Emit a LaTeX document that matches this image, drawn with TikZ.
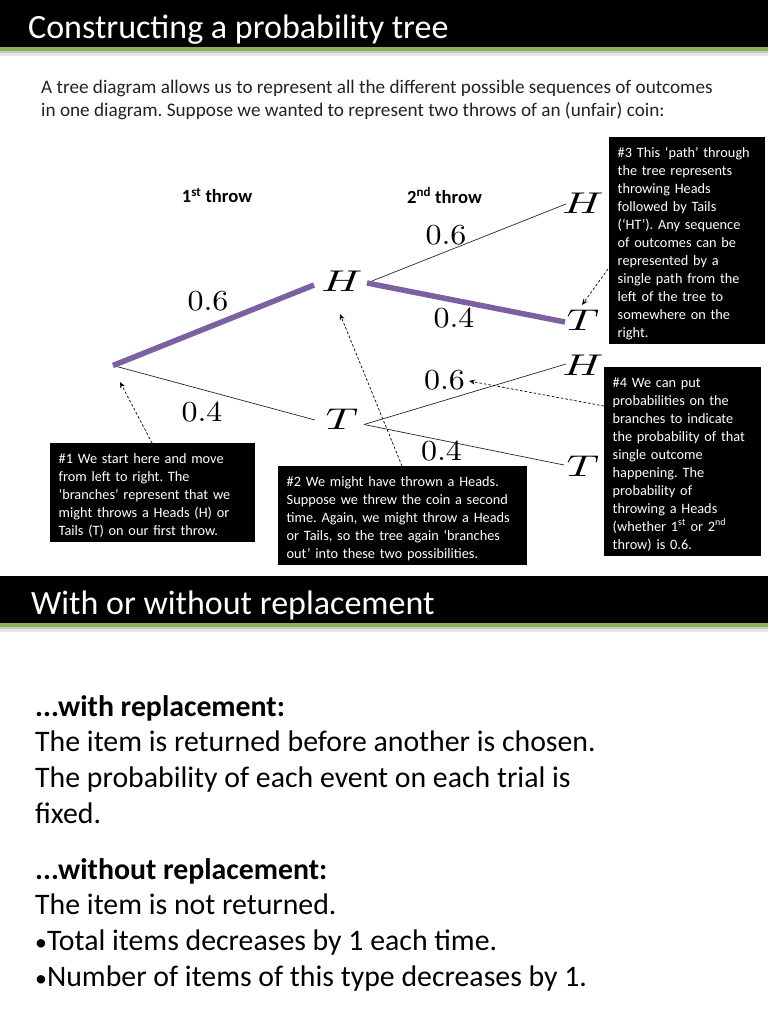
\documentclass[tikz,border=0pt]{standalone}
\usepackage{fontspec}
\usepackage{graphicx}
\newfontfamily\carl{Carlito}
\definecolor{barpurple}{HTML}{7D60A0}
\definecolor{bargreen}{HTML}{8DB255}
\definecolor{inkgray}{HTML}{222222}
\newcommand{\treeletter}[1]{\scalebox{4.5}[3]{\fontsize{10}{10}\selectfont$#1$}}
\newcommand{\treeprob}[1]{\scalebox{3.2}[2.9]{\fontsize{10}{10}\selectfont #1}}
\newcommand{\smallbullet}{\scalebox{0.8}{•}}
\tikzset{
  bar/.style={draw=none,fill=black},
  greenline/.style={draw=none,fill=bargreen},
  shade1/.style={draw=none,fill=black!22},
  shade2/.style={draw=none,fill=black!9},
  titletext/.style={text=white,anchor=base west,inner sep=0pt,font=\carl\frenchspacing\fontsize{34}{40}\selectfont},
  bodytext/.style={text=inkgray,anchor=north west,inner sep=0pt,align=left},
  callout/.style={fill=black,text=white,anchor=north west,align=left,inner xsep=8.5pt,inner ysep=4.5pt,
     font=\carl\frenchspacing\fontsize{14.3}{18}\selectfont,
     execute at begin node={\rule{0pt}{15.5pt}}},
  heavy/.style={draw=barpurple,line width=5.5pt},
  thin/.style={draw=black!85,line width=0.7pt},
  pointer/.style={draw=black,line width=0.7pt,dash pattern=on 2.6pt off 2pt,-{Stealth[length=6pt,width=5pt]}},
  letter/.style={inner sep=0pt},
  prob/.style={inner sep=0pt},
  head/.style={text=black,inner sep=0pt,font=\carl\bfseries\fontsize{18.6}{22}\selectfont},
}
\usetikzlibrary{arrows.meta}
\begin{document}
\begin{tikzpicture}[x=1pt,y=-1pt]
\useasboundingbox (0,0) rectangle (768,1024);
% header bars
\fill[shade2] (0,51) rectangle (768,56);
\fill[shade1] (0,51) rectangle (768,53);
\fill[bar] (0,0) rectangle (768,47);
\fill[greenline] (0,47) rectangle (768,51);
\fill[shade2] (0,627) rectangle (768,632);
\fill[shade1] (0,627) rectangle (768,629);
\fill[bar] (0,576) rectangle (768,623);
\fill[greenline] (0,623) rectangle (768,627);
\node[titletext] (t1) at (28,38.5) {Constructing a probability tree};
\node[titletext] (t2) at (31,614) {With or without replacement};
\node[bodytext,font=\carl\frenchspacing\fontsize{19.2}{22.5}\selectfont] (intro) at (41,80) {A tree diagram allows us to represent all the different possible sequences of outcomes\\in one diagram. Suppose we wanted to represent two throws of an (unfair) coin:};
\node[head] (first) at (217,195.5) {1\textsuperscript{st} throw};
\node[head] (second) at (444.5,195.5) {2\textsuperscript{nd} throw};
% tree
\coordinate (root) at (113,365.5);
\node[letter] (H1) at (342,281) {\treeletter{H}};
\node[letter] (T1) at (342,419) {\treeletter{T}};
\node[letter] (HH) at (583,203) {\treeletter{H}};
\node[letter] (HT) at (583,320) {\treeletter{T}};
\node[letter] (TH) at (583,365) {\treeletter{H}};
\node[letter] (TT) at (583,466) {\treeletter{T}};
\coordinate (H1in) at (314,285);
\coordinate (H1out) at (367,283);
\coordinate (H1up) at (372,281);
\coordinate (HTin) at (565,322);
\coordinate (HHin) at (566,204);
\coordinate (T1in) at (315,420);
\coordinate (T1out) at (364,424.5);
\coordinate (THin) at (566,364);
\coordinate (TTin) at (564,465);
\draw[thin] (root) -- (T1in);
\draw[thin] (H1up) -- (HHin);
\draw[thin] (T1out) -- (THin);
\draw[thin] (T1out) -- (TTin);
\draw[heavy] (root) -- (H1in);
\draw[heavy] (H1out) -- (HTin);
\node[prob] (p1) at (208,301) {\treeprob{0.6}};
\node[prob] (p2) at (202,412) {\treeprob{0.4}};
\node[prob] (p3) at (446,235) {\treeprob{0.6}};
\node[prob] (p4) at (454,318) {\treeprob{0.4}};
\node[prob] (p5) at (444.5,380) {\treeprob{0.6}};
\node[prob] (p6) at (441.5,451) {\treeprob{0.4}};
% callouts
\node[callout,text width=188pt] (c1) at (50,443) {\#1 We start here and move\\from left to right. The\\‘branches’ represent that we\\might throws a Heads (H) or\\Tails (T) on our first throw.};
\node[callout,text width=232pt] (c2) at (278,466) {\#2 We might have thrown a Heads.\\Suppose we threw the coin a second\\time. Again, we might throw a Heads\\or Tails, so the tree again ‘branches\\out’ into these two possibilities.};
\node[callout,text width=139pt] (c3) at (609,137) {\#3 This ‘path’ through\\the tree represents\\throwing Heads\\followed by Tails\\(‘HT’). Any sequence\\of outcomes can be\\represented by a\\single path from the\\left of the tree to\\somewhere on the\\right.};
\node[callout,text width=140pt] (c4) at (604,367) {\#4 We can put\\probabilities on the\\branches to indicate\\the probability of that\\single outcome\\happening. The\\probability of\\throwing a Heads\\(whether 1\textsuperscript{st} or 2\textsuperscript{nd}\\throw) is 0.6.};
% pointers
\coordinate (a1s) at (152,443); \coordinate (a1e) at (120,382);
\coordinate (a2s) at (402,466); \coordinate (a2e) at (340,314);
\coordinate (a3s) at (608,269); \coordinate (a3e) at (582,305);
\coordinate (a4s) at (604,406); \coordinate (a4e) at (469,381);
\draw[pointer] (a1s) -- (a1e);
\draw[pointer] (a2s) -- (a2e);
\draw[pointer] (a3s) -- (a3e);
\draw[pointer] (a4s) -- (a4e);
% lower text
\node[bodytext,text=black,font=\carl\frenchspacing\fontsize{29.8}{35.8}\selectfont] (b1) at (35,695) {\textbf{...with replacement:}\\The item is returned before another is chosen.\\The probability of each event on each trial is\\fixed.};
\node[bodytext,text=black,font=\carl\frenchspacing\fontsize{29.8}{35.8}\selectfont] (b2) at (35,858) {\textbf{...without replacement:}\\The item is not returned.\\\smallbullet Total items decreases by 1 each time.\\\smallbullet Number of items of this type decreases by 1.};
\end{tikzpicture}
\end{document}
